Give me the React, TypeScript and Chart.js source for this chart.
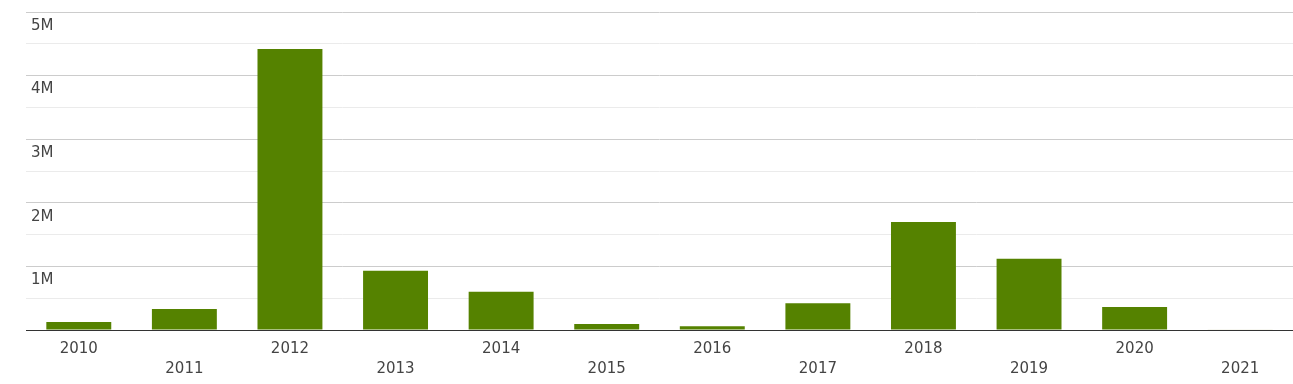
import React, { useEffect, useRef } from "react";
import { Chart, registerables } from "chart.js";

Chart.register(...registerables);

const years = ["2010", "2011", "2012", "2013", "2014", "2015", "2016", "2017", "2018", "2019", "2020", "2021"];
const values = [125000, 330000, 4420000, 930000, 600000, 95000, 60000, 420000, 1700000, 1120000, 360000, 15000];
const barColors = ["#558200", "#558200", "#558200", "#558200", "#558200", "#558200", "#558200", "#558200", "#558200", "#558200", "#558200", "#efefe4"];
const yTickLabels: Record<number, string> = { 1000000: "1M", 2000000: "2M", 3000000: "3M", 4000000: "4M", 5000000: "5M" };

export default function App() {
  const ref = useRef<HTMLCanvasElement | null>(null);
  useEffect(() => {
    if (!ref.current) return;
    const font = { family: "'DejaVu Sans', sans-serif", size: 15, lineHeight: "20px" };
    const chart = new Chart(ref.current, {
      type: "bar",
      data: {
        labels: years,
        datasets: [
          {
            data: values,
            backgroundColor: barColors,
            barPercentage: 0.615,
            categoryPercentage: 1,
          },
        ],
      },
      options: {
        animation: false,
        responsive: false,
        maintainAspectRatio: false,
        layout: { padding: { left: 26, right: 0, top: 12, bottom: 0 } },
        plugins: { legend: { display: false }, tooltip: { enabled: false } },
        scales: {
          x: {
            grid: { display: false, drawTicks: false },
            border: { display: true, color: "#333", width: 1 },
            ticks: {
              autoSkip: false,
              maxRotation: 0,
              minRotation: 0,
              padding: 9,
              color: "#444",
              font: font as any,
              callback: (_v: any, i: number) => (i % 2 === 0 ? [years[i], ""] : ["", years[i]]),
            },
            afterFit: (s: any) => {
              s.height = 54;
              s.paddingLeft = 0;
              s.paddingRight = 0;
            },
          },
          y: {
            min: 0,
            max: 5000000,
            border: { display: false },
            grid: {
              drawTicks: false,
              color: (ctx: any) => {
                const v = ctx.tick ? ctx.tick.value : 0;
                if (v === 0) return "#333";
                return v % 1000000 === 0 ? "#cccccc" : "#ebebeb";
              },
              lineWidth: 1,
            },
            ticks: {
              stepSize: 500000,
              autoSkip: false,
              mirror: true,
              padding: 5,
              labelOffset: 14,
              color: "#444",
              font: font as any,
              callback: (v: any) => yTickLabels[Number(v)] || "",
            },
            afterFit: (s: any) => {
              s.width = 0;
              s.paddingTop = 0;
              s.paddingBottom = 0;
            },
          },
        },
      },
    } as any);
    return () => chart.destroy();
  }, []);
  return (
    <div style={{ position: "fixed", left: 0, top: 0, width: 1293, height: 384, background: "#fff" }}>
      <canvas ref={ref} width={1293} height={384} style={{ display: "block", width: 1293, height: 384 }} />
    </div>
  );
}
